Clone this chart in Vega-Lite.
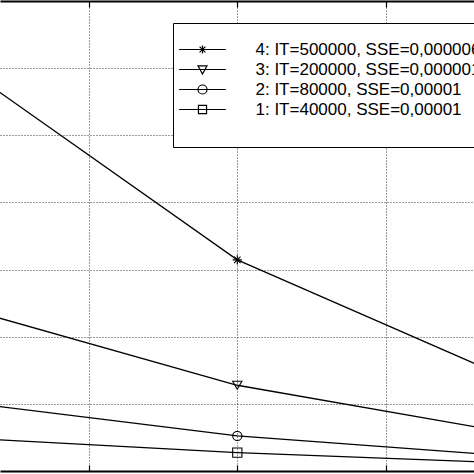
{
  "$schema": "https://vega.github.io/schema/vega-lite/v6.json",
  "description": "Four training runs, error vs step (cropped MATLAB figure)",
  "background": "white",
  "autosize": "none",
  "padding": {"top": 1, "left": 0, "right": 0, "bottom": 3},
  "width": 474,
  "height": 470,
  "data": {
    "values": [
      {"x": 0, "y": 6.265, "series": "4: IT=500000, SSE=0,000006"},
      {"x": 2, "y": 3.145, "series": "4: IT=500000, SSE=0,000006"},
      {"x": 4, "y": 1.213, "series": "4: IT=500000, SSE=0,000006"},
      {"x": 0, "y": 2.527, "series": "3: IT=200000, SSE=0,000001"},
      {"x": 2, "y": 1.277, "series": "3: IT=200000, SSE=0,000001"},
      {"x": 4, "y": 0.503, "series": "3: IT=200000, SSE=0,000001"},
      {"x": 0, "y": 1.068, "series": "2: IT=80000, SSE=0,00001"},
      {"x": 2, "y": 0.522, "series": "2: IT=80000, SSE=0,00001"},
      {"x": 4, "y": 0.198, "series": "2: IT=80000, SSE=0,00001"},
      {"x": 0, "y": 0.510, "series": "1: IT=40000, SSE=0,00001"},
      {"x": 2, "y": 0.273, "series": "1: IT=40000, SSE=0,00001"},
      {"x": 4, "y": 0.105, "series": "1: IT=40000, SSE=0,00001"}
    ]
  },
  "layer": [
    {
      "mark": {"type": "line", "color": "black", "strokeWidth": 1.3, "clip": true},
      "encoding": {
        "x": {
          "field": "x", "type": "quantitative",
          "scale": {"domain": [0.402, 3.594], "nice": false, "zero": false},
          "axis": {"orient": "bottom", "values": [1, 2, 3], "grid": true}
        },
        "y": {
          "field": "y", "type": "quantitative",
          "scale": {"domain": [0, 7], "nice": false},
          "axis": {"values": [1, 2, 3, 4, 5, 6]}
        },
        "detail": {"field": "series"},
        "order": {"field": "x"}
      }
    },
    {
      "mark": {"type": "point", "filled": false, "color": "black", "strokeWidth": 1.1, "size": 85, "opacity": 1, "clip": true},
      "encoding": {
        "x": {"field": "x", "type": "quantitative", "axis": null},
        "y": {"field": "y", "type": "quantitative", "axis": {"values": [1, 2, 3, 4, 5, 6]}},
        "shape": {
          "field": "series",
          "scale": {
            "domain": ["4: IT=500000, SSE=0,000006", "3: IT=200000, SSE=0,000001", "2: IT=80000, SSE=0,00001", "1: IT=40000, SSE=0,00001"],
            "range": ["M-1,0H1M0,-1V1M-0.7,-0.7L0.7,0.7M-0.7,0.7L0.7,-0.7", "triangle-down", "circle", "square"]
          },
          "legend": null
        }
      }
    },
    {
      "transform": [{"filter": "false"}],
      "mark": {"type": "point", "filled": false, "color": "black"},
      "encoding": {
        "x": {
          "field": "x", "type": "quantitative",
          "axis": {"orient": "top", "values": [1, 2, 3], "grid": false}
        },
        "y": {"field": "y", "type": "quantitative", "axis": {"values": [1, 2, 3, 4, 5, 6]}},
        "shape": {
          "field": "series",
          "scale": {
            "domain": ["4: IT=500000, SSE=0,000006", "3: IT=200000, SSE=0,000001", "2: IT=80000, SSE=0,00001", "1: IT=40000, SSE=0,00001"],
            "range": [
              "M-5.2,0H5.2M-0.9,0H0.9M0,-0.9V0.9M-0.65,-0.65L0.65,0.65M-0.65,0.65L0.65,-0.65",
              "M-5.2,0H5.2M-1,-0.8L1,-0.8L0,1Z",
              "M-5.2,0H5.2M1,0A1,1 0 1,1 -1,0A1,1 0 1,1 1,0Z",
              "M-5.2,0H5.2M-0.9,-0.9H0.9V0.9H-0.9Z"
            ]
          },
          "legend": {
            "orient": "none",
            "legendX": 173,
            "legendY": 22,
            "title": " ",
            "titleOrient": "bottom",
            "titleFontSize": 12,
            "titlePadding": 0,
            "padding": 18,
            "rowPadding": 2,
            "symbolSize": 81,
            "symbolOffset": 3,
            "symbolStrokeColor": "black",
            "symbolFillColor": "transparent",
            "symbolStrokeWidth": 1.2,
            "symbolOpacity": 1,
            "labelOffset": 44.5,
            "labelFont": "Liberation Sans",
            "labelFontSize": 17,
            "labelColor": "black",
            "labelLimit": 400,
            "fillColor": "white",
            "strokeColor": "black"
          }
        }
      }
    }
  ],
  "resolve": {"scale": {"shape": "independent"}, "axis": {"x": "independent"}, "legend": {"shape": "independent"}},
  "config": {
    "view": {"stroke": null},
    "axis": {
      "title": null,
      "labels": false,
      "domainColor": "black",
      "domainWidth": 2,
      "tickColor": "black",
      "tickSize": -6,
      "tickWidth": 1.2,
      "gridColor": "#222",
      "gridDash": [1, 2],
      "gridWidth": 1,
      "gridOpacity": 0.9
    },
    "axisY": {
      "domain": false,
      "ticks": false,
      "grid": true
    }
  }
}
